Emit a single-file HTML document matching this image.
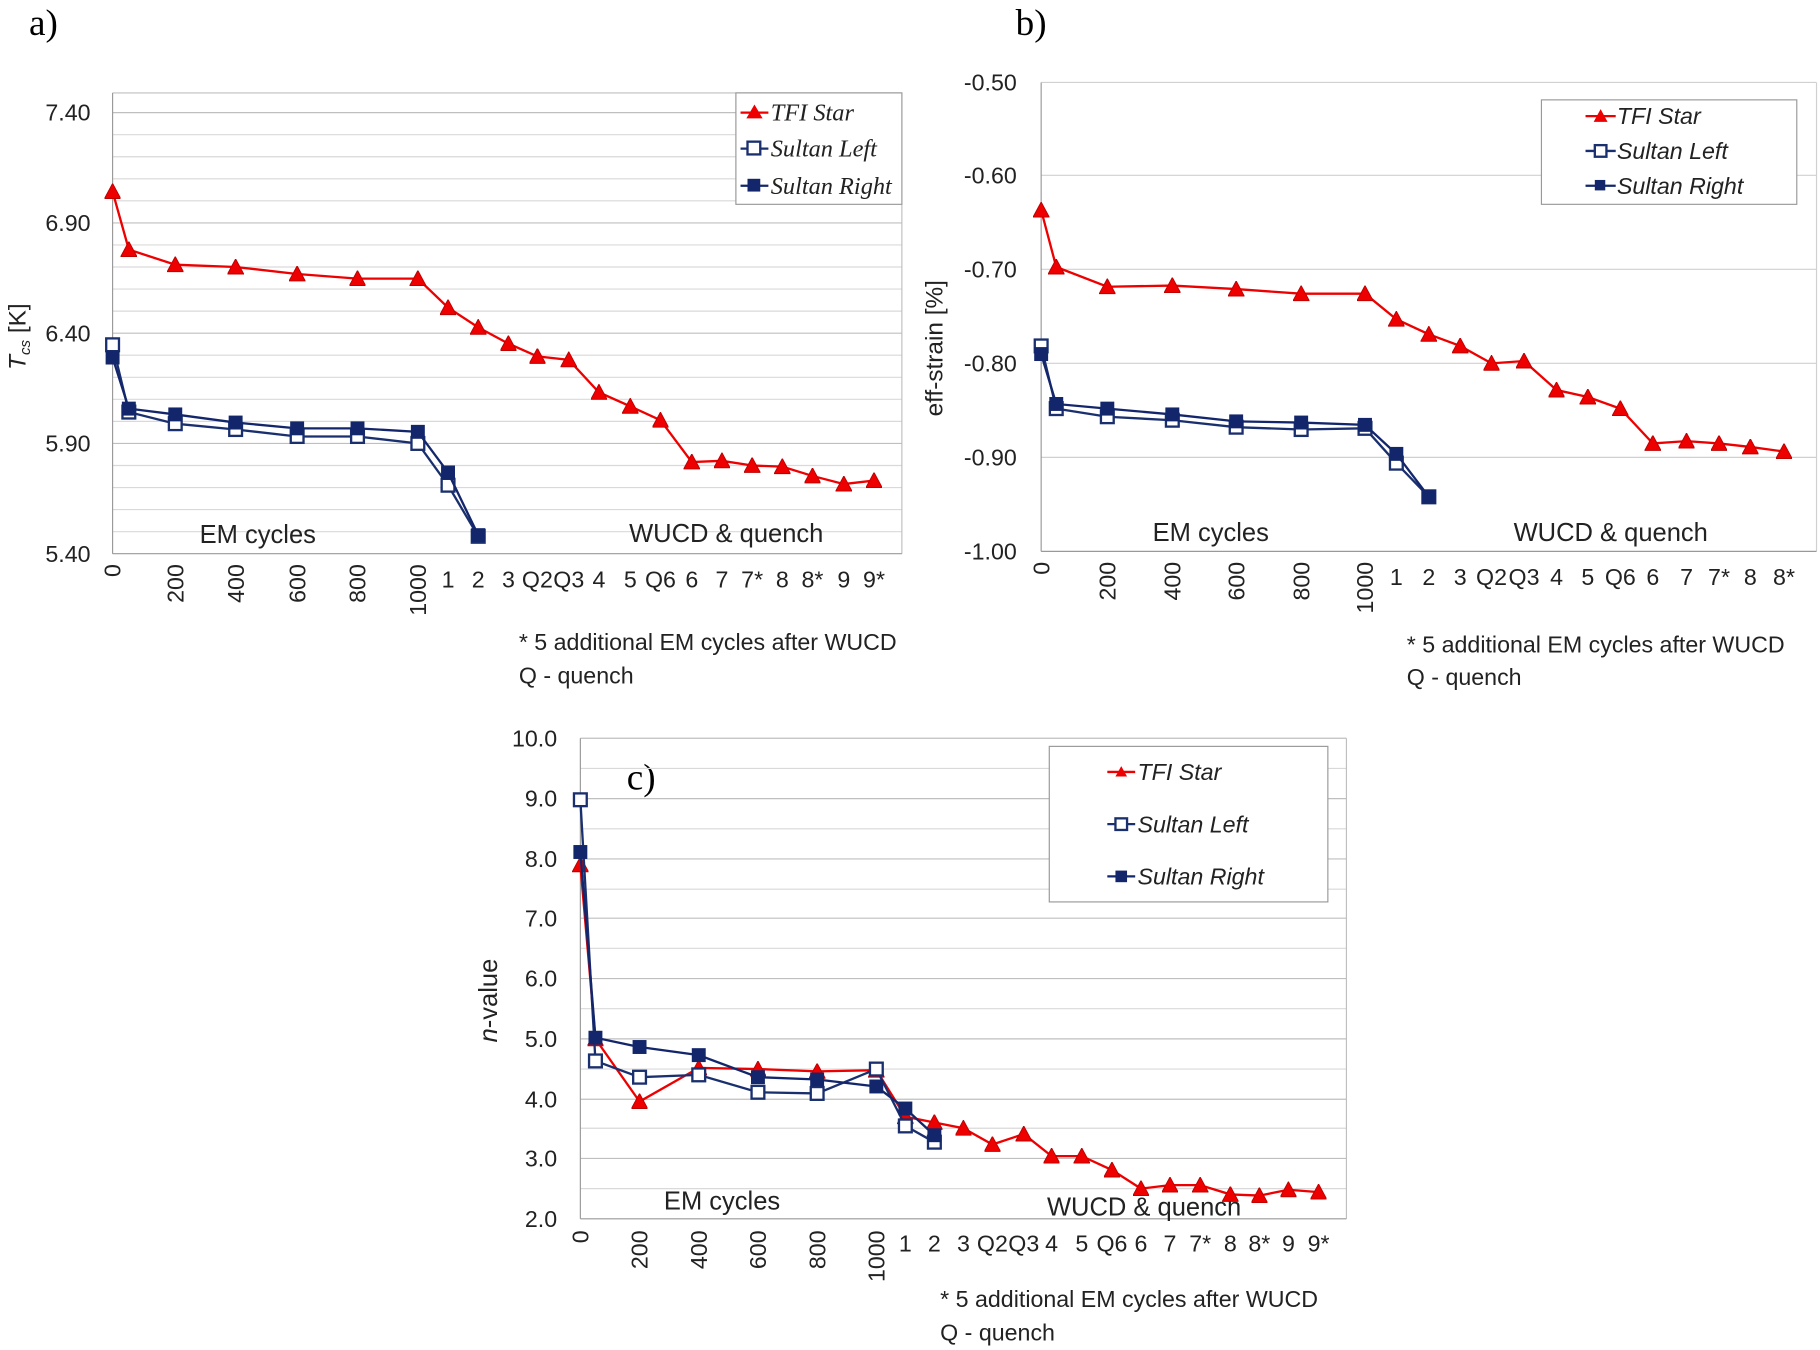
<!DOCTYPE html>
<html><head><meta charset="utf-8"><style>
html,body{margin:0;padding:0;background:#fff;}
svg{display:block;}
text{font-family:"Liberation Sans",sans-serif;fill:#222;}
.t{font-size:20px;}
.lg{font-size:20px;font-style:italic;}
.pl{font-family:"Liberation Serif",serif;font-size:32px;fill:#000;}
</style></head><body>
<svg width="1820" height="1350" viewBox="0 0 1568 1163" xmlns="http://www.w3.org/2000/svg">
<defs>
<marker id="tri" viewBox="-7 -7 14 14" markerWidth="14" markerHeight="14" markerUnits="userSpaceOnUse" refX="0" refY="0"><polygon points="0,-7 7,6 -7,6" fill="#e00" stroke="#b00" stroke-width="0.8"/></marker>
<marker id="sqo" viewBox="-7 -7 14 14" markerWidth="14" markerHeight="14" markerUnits="userSpaceOnUse" refX="0" refY="0"><rect x="-5.5" y="-5.5" width="11" height="11" fill="#fff" stroke="#1a2f6e" stroke-width="2"/></marker>
<marker id="sqf" viewBox="-7 -7 14 14" markerWidth="14" markerHeight="14" markerUnits="userSpaceOnUse" refX="0" refY="0"><rect x="-5.5" y="-5.5" width="11" height="11" fill="#13266b" stroke="#13266b" stroke-width="1"/></marker>
</defs>
<g id="A">
<text class="pl" x="25" y="30">a)</text>
<g stroke="#d9d9d9" stroke-width="1">
<line x1="97" x2="777" y1="116" y2="116"/><line x1="97" x2="777" y1="135" y2="135"/><line x1="97" x2="777" y1="154" y2="154"/><line x1="97" x2="777" y1="173" y2="173"/>
<line x1="97" x2="777" y1="211" y2="211"/><line x1="97" x2="777" y1="230" y2="230"/><line x1="97" x2="777" y1="249" y2="249"/><line x1="97" x2="777" y1="268" y2="268"/>
<line x1="97" x2="777" y1="306" y2="306"/><line x1="97" x2="777" y1="325" y2="325"/><line x1="97" x2="777" y1="344" y2="344"/><line x1="97" x2="777" y1="363" y2="363"/>
<line x1="97" x2="777" y1="401" y2="401"/><line x1="97" x2="777" y1="420" y2="420"/><line x1="97" x2="777" y1="439" y2="439"/><line x1="97" x2="777" y1="458" y2="458"/>
</g>
<g stroke="#bfbfbf" stroke-width="1">
<line x1="97" x2="777" y1="80" y2="80"/><line x1="97" x2="777" y1="97" y2="97"/><line x1="97" x2="777" y1="192" y2="192"/><line x1="97" x2="777" y1="287" y2="287"/><line x1="97" x2="777" y1="382" y2="382"/>
<line x1="777" x2="777" y1="80" y2="477"/>
</g>
<line x1="97" x2="97" y1="80" y2="477" stroke="#999"/><line x1="97" x2="777" y1="477" y2="477" stroke="#999"/>
<g class="t" text-anchor="end"><text x="78" y="104">7.40</text><text x="78" y="199">6.90</text><text x="78" y="294">6.40</text><text x="78" y="389">5.90</text><text x="78" y="484">5.40</text></g>
<text x="22" y="290" transform="rotate(-90 22 290)" style="font-size:21px" text-anchor="middle" font-style="italic">T<tspan font-size="13" dy="4">cs</tspan><tspan dy="-4" font-style="normal"> [K]</tspan></text>
<g class="t" text-anchor="end">
<text transform="translate(104,486) rotate(-90)">0</text><text transform="translate(158,486) rotate(-90)">200</text><text transform="translate(210,486) rotate(-90)">400</text><text transform="translate(263,486) rotate(-90)">600</text><text transform="translate(315,486) rotate(-90)">800</text><text transform="translate(367,486) rotate(-90)">1000</text>
</g>
<g class="t" text-anchor="middle">
<text x="386" y="506">1</text><text x="412" y="506">2</text><text x="438" y="506">3</text><text x="463" y="506">Q2</text><text x="490" y="506">Q3</text><text x="516" y="506">4</text><text x="543" y="506">5</text><text x="569" y="506">Q6</text><text x="596" y="506">6</text><text x="622" y="506">7</text><text x="648" y="506">7*</text><text x="674" y="506">8</text><text x="700" y="506">8*</text><text x="727" y="506">9</text><text x="753" y="506">9*</text>
</g>
<text x="172" y="468" font-size="22">EM cycles</text><text x="542" y="467" font-size="22">WUCD &amp; quench</text>
<text x="447" y="560" class="t">* 5 additional EM cycles after WUCD</text><text x="447" y="589" class="t">Q - quench</text>
<polyline fill="none" stroke="#e00" stroke-width="2" marker-start="url(#tri)" marker-mid="url(#tri)" marker-end="url(#tri)" points="97,165 111,215 151,228 203,230 256,236 308,240 360,240 386,265 412,282 438,296 463,307 490,310 516,338 543,350 569,362 596,398 622,397 648,401 674,402 700,410 727,417 753,414"/>
<polyline fill="none" stroke="#1a2f6e" stroke-width="2" marker-start="url(#sqo)" marker-mid="url(#sqo)" marker-end="url(#sqo)" points="97,297 111,355 151,365 203,370 256,376 308,376 360,382 386,418 412,462"/>
<polyline fill="none" stroke="#13266b" stroke-width="2" marker-start="url(#sqf)" marker-mid="url(#sqf)" marker-end="url(#sqf)" points="97,308 111,352 151,357 203,364 256,369 308,369 360,372 386,407 412,461"/>
<rect x="634" y="80" width="143" height="96" fill="#fff" stroke="#999"/>
<line x1="638" x2="662" y1="97" y2="97" stroke="#e00" stroke-width="2"/><polygon points="650,90 657,102 643,102" fill="#e00"/>
<line x1="638" x2="662" y1="128" y2="128" stroke="#1a2f6e" stroke-width="2"/><rect x="644" y="122" width="11" height="11" fill="#fff" stroke="#1a2f6e" stroke-width="2"/>
<line x1="638" x2="662" y1="160" y2="160" stroke="#13266b" stroke-width="2"/><rect x="644" y="154" width="11" height="11" fill="#13266b"/>
<g style="font-family:'Liberation Serif',serif;font-style:italic;font-size:21px"><text x="664" y="104" style="font-family:'Liberation Serif',serif">TFI Star</text><text x="664" y="135" style="font-family:'Liberation Serif',serif">Sultan Left</text><text x="664" y="167" style="font-family:'Liberation Serif',serif">Sultan Right</text></g>
</g>
<g id="B">
<text class="pl" x="875" y="30">b)</text>
<g stroke="#d0d0d0" stroke-width="1">
<line x1="897" x2="1565" y1="71" y2="71"/><line x1="897" x2="1565" y1="151" y2="151"/><line x1="897" x2="1565" y1="232" y2="232"/><line x1="897" x2="1565" y1="313" y2="313"/><line x1="897" x2="1565" y1="394" y2="394"/>
<line x1="1565" x2="1565" y1="71" y2="475"/>
</g>
<line x1="897" x2="897" y1="71" y2="475" stroke="#999"/><line x1="897" x2="1565" y1="475" y2="475" stroke="#999"/>
<g class="t" text-anchor="end"><text x="876" y="78">-0.50</text><text x="876" y="158">-0.60</text><text x="876" y="239">-0.70</text><text x="876" y="320">-0.80</text><text x="876" y="401">-0.90</text><text x="876" y="482">-1.00</text></g>
<text transform="translate(812,300) rotate(-90)" style="font-size:21px" text-anchor="middle">eff-strain [%]</text>
<g class="t" text-anchor="end">
<text transform="translate(904,484) rotate(-90)">0</text><text transform="translate(961,484) rotate(-90)">200</text><text transform="translate(1017,484) rotate(-90)">400</text><text transform="translate(1072,484) rotate(-90)">600</text><text transform="translate(1128,484) rotate(-90)">800</text><text transform="translate(1183,484) rotate(-90)">1000</text>
</g>
<g class="t" text-anchor="middle">
<text x="1203" y="504">1</text><text x="1231" y="504">2</text><text x="1258" y="504">3</text><text x="1285" y="504">Q2</text><text x="1313" y="504">Q3</text><text x="1341" y="504">4</text><text x="1368" y="504">5</text><text x="1396" y="504">Q6</text><text x="1424" y="504">6</text><text x="1453" y="504">7</text><text x="1481" y="504">7*</text><text x="1508" y="504">8</text><text x="1537" y="504">8*</text>
</g>
<text x="993" y="466" font-size="22">EM cycles</text><text x="1304" y="466" font-size="22">WUCD &amp; quench</text>
<text x="1212" y="562" class="t">* 5 additional EM cycles after WUCD</text><text x="1212" y="590" class="t">Q - quench</text>
<polyline fill="none" stroke="#e00" stroke-width="2" marker-start="url(#tri)" marker-mid="url(#tri)" marker-end="url(#tri)" points="897,181 910,230 954,247 1010,246 1065,249 1121,253 1176,253 1203,275 1231,288 1258,298 1285,313 1313,311 1341,336 1368,342 1396,352 1424,382 1453,380 1481,382 1508,385 1537,389"/>
<polyline fill="none" stroke="#1a2f6e" stroke-width="2" marker-start="url(#sqo)" marker-mid="url(#sqo)" marker-end="url(#sqo)" points="897,298 910,352 954,359 1010,362 1065,368 1121,370 1176,369 1203,399 1231,428"/>
<polyline fill="none" stroke="#13266b" stroke-width="2" marker-start="url(#sqf)" marker-mid="url(#sqf)" marker-end="url(#sqf)" points="897,305 910,348 954,352 1010,357 1065,363 1121,364 1176,366 1203,391 1231,428"/>
<rect x="1328" y="86" width="220" height="90" fill="#fff" stroke="#999"/>
<line x1="1366" x2="1392" y1="100" y2="100" stroke="#e00" stroke-width="2"/><polygon points="1379,94 1385,105 1373,105" fill="#e00"/>
<line x1="1366" x2="1392" y1="130" y2="130" stroke="#1a2f6e" stroke-width="2"/><rect x="1374" y="125" width="10" height="10" fill="#fff" stroke="#1a2f6e" stroke-width="2"/>
<line x1="1366" x2="1392" y1="160" y2="160" stroke="#13266b" stroke-width="2"/><rect x="1374" y="155" width="9" height="9" fill="#13266b"/>
<g class="lg"><text x="1393" y="107">TFI Star</text><text x="1393" y="137">Sultan Left</text><text x="1393" y="167">Sultan Right</text></g>
</g>
<g id="C">
<text class="pl" x="540" y="680">c)</text>
<g stroke="#d9d9d9" stroke-width="1">
<line x1="500" x2="1160" y1="662" y2="662"/><line x1="500" x2="1160" y1="714" y2="714"/><line x1="500" x2="1160" y1="766" y2="766"/><line x1="500" x2="1160" y1="817" y2="817"/><line x1="500" x2="1160" y1="869" y2="869"/><line x1="500" x2="1160" y1="921" y2="921"/><line x1="500" x2="1160" y1="972" y2="972"/><line x1="500" x2="1160" y1="1024" y2="1024"/>
</g>
<g stroke="#bfbfbf" stroke-width="1">
<line x1="500" x2="1160" y1="636" y2="636"/><line x1="500" x2="1160" y1="688" y2="688"/><line x1="500" x2="1160" y1="740" y2="740"/><line x1="500" x2="1160" y1="791" y2="791"/><line x1="500" x2="1160" y1="843" y2="843"/><line x1="500" x2="1160" y1="895" y2="895"/><line x1="500" x2="1160" y1="947" y2="947"/><line x1="500" x2="1160" y1="998" y2="998"/>
<line x1="1160" x2="1160" y1="636" y2="1050"/>
</g>
<line x1="500" x2="500" y1="636" y2="1050" stroke="#999"/><line x1="500" x2="1160" y1="1050" y2="1050" stroke="#999"/>
<g class="t" text-anchor="end"><text x="480" y="643">10.0</text><text x="480" y="695">9.0</text><text x="480" y="747">8.0</text><text x="480" y="798">7.0</text><text x="480" y="850">6.0</text><text x="480" y="902">5.0</text><text x="480" y="954">4.0</text><text x="480" y="1005">3.0</text><text x="480" y="1057">2.0</text></g>
<text transform="translate(428,862) rotate(-90)" style="font-size:22px" text-anchor="middle"><tspan font-style="italic">n</tspan>-value</text>
<g class="t" text-anchor="end">
<text transform="translate(507,1060) rotate(-90)">0</text><text transform="translate(558,1060) rotate(-90)">200</text><text transform="translate(609,1060) rotate(-90)">400</text><text transform="translate(660,1060) rotate(-90)">600</text><text transform="translate(711,1060) rotate(-90)">800</text><text transform="translate(762,1060) rotate(-90)">1000</text>
</g>
<g class="t" text-anchor="middle">
<text x="780" y="1078">1</text><text x="805" y="1078">2</text><text x="830" y="1078">3</text><text x="855" y="1078">Q2</text><text x="882" y="1078">Q3</text><text x="906" y="1078">4</text><text x="932" y="1078">5</text><text x="958" y="1078">Q6</text><text x="983" y="1078">6</text><text x="1008" y="1078">7</text><text x="1034" y="1078">7*</text><text x="1060" y="1078">8</text><text x="1085" y="1078">8*</text><text x="1110" y="1078">9</text><text x="1136" y="1078">9*</text>
</g>
<text x="572" y="1042" font-size="22">EM cycles</text><text x="902" y="1047" font-size="22">WUCD &amp; quench</text>
<text x="810" y="1126" class="t">* 5 additional EM cycles after WUCD</text><text x="810" y="1155" class="t">Q - quench</text>
<polyline fill="none" stroke="#e00" stroke-width="2" marker-start="url(#tri)" marker-mid="url(#tri)" marker-end="url(#tri)" points="500,745 513,895 551,949 602,920 653,921 704,923 755,922 780,962 805,967 830,972 855,986 882,977 906,996 932,996 958,1008 983,1024 1008,1021 1034,1021 1060,1029 1085,1030 1110,1025 1136,1027"/>
<polyline fill="none" stroke="#1a2f6e" stroke-width="2" marker-start="url(#sqo)" marker-mid="url(#sqo)" marker-end="url(#sqo)" points="500,689 513,914 551,928 602,926 653,941 704,942 755,921 780,970 805,984"/>
<polyline fill="none" stroke="#13266b" stroke-width="2" marker-start="url(#sqf)" marker-mid="url(#sqf)" marker-end="url(#sqf)" points="500,734 513,894 551,902 602,909 653,928 704,930 755,936 780,955 805,978"/>
<rect x="904" y="643" width="240" height="134" fill="#fff" stroke="#999"/>
<line x1="954" x2="978" y1="665" y2="665" stroke="#e00" stroke-width="2"/><polygon points="966,660 971,669 961,669" fill="#e00"/>
<line x1="954" x2="978" y1="710" y2="710" stroke="#1a2f6e" stroke-width="2"/><rect x="961" y="705" width="10" height="10" fill="#fff" stroke="#1a2f6e" stroke-width="2"/>
<line x1="954" x2="978" y1="755" y2="755" stroke="#13266b" stroke-width="2"/><rect x="961" y="750" width="10" height="10" fill="#13266b"/>
<g class="lg"><text x="980" y="672">TFI Star</text><text x="980" y="717">Sultan Left</text><text x="980" y="762">Sultan Right</text></g>
</g>
</svg>
</body></html>
